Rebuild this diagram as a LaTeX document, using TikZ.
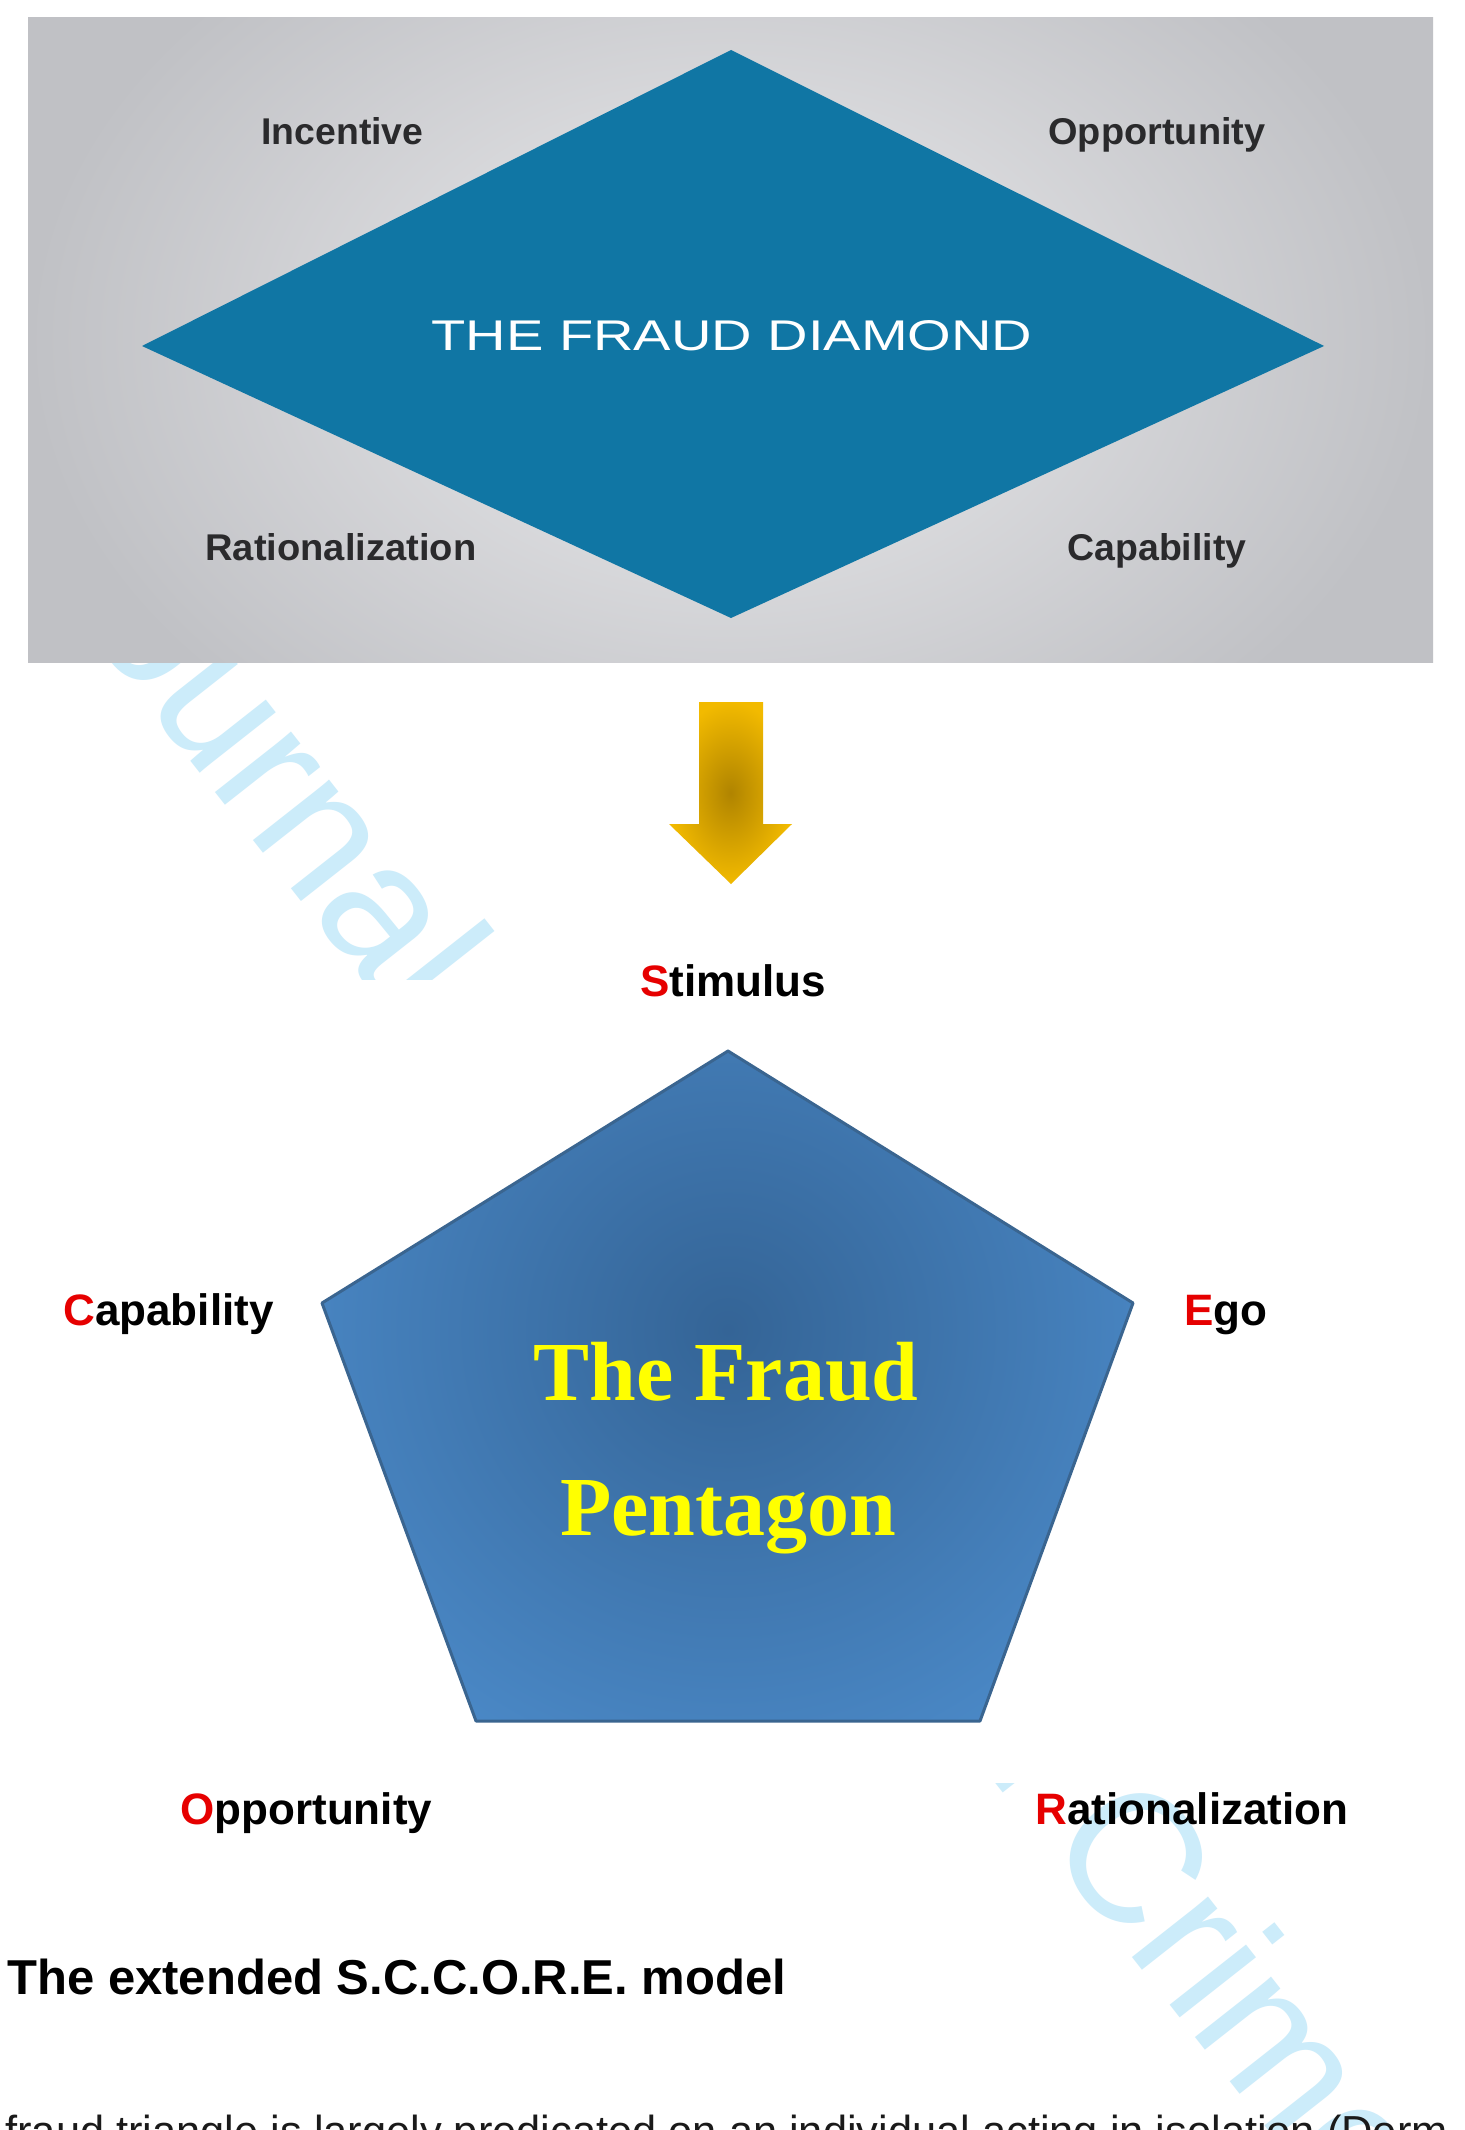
\documentclass[tikz,border=0pt]{standalone}
\usepackage{fontspec}
\setmainfont{Liberation Sans}
\newfontfamily\tnrfont{Liberation Serif}
\usepackage{graphicx}
\definecolor{wmblue}{RGB}{204,236,250}
\definecolor{diamblue}{RGB}{16,118,164}
\definecolor{labgray}{RGB}{42,42,44}
\definecolor{boxin}{RGB}{236,236,238}
\definecolor{boxout}{RGB}{192,193,197}
\definecolor{goldout}{RGB}{242,186,0}
\definecolor{goldin}{RGB}{176,132,0}
\definecolor{pentin}{RGB}{52,100,150}
\definecolor{pentout}{RGB}{74,136,198}
\definecolor{pentedge}{RGB}{58,101,144}
\definecolor{redl}{RGB}{230,0,0}
\definecolor{ylw}{RGB}{255,255,0}
\begin{document}
\begin{tikzpicture}[x=0.5pt,y=-0.5pt,
  dlab/.style={inner sep=0, anchor=base west, text=labgray},
  plab/.style={inner sep=0, anchor=base west, font=\fontsize{22pt}{26pt}\selectfont\bfseries},
  ptitle/.style={inner sep=0, anchor=base, text=ylw, font=\fontsize{42pt}{48pt}\selectfont\tnrfont\bfseries}]
\useasboundingbox (0,0) rectangle (1464,2130);
\clip (0,0) rectangle (1464,2130);
\fill[white] (0,0) rectangle (1464,2130);
% watermark
\node[inner sep=0, anchor=base west, rotate=-51.8, text=wmblue, font=\fontsize{92pt}{100pt}\selectfont] (wm) at (24,549) {Journal of Financial Crime};
% cover of the pentagon figure
\fill[white] (0,980) rectangle (1464,1783);
% top figure
\begin{scope}
  \clip (28,18) rectangle (1433,662);
  \shade[inner color=boxin, outer color=boxout] (28,-160) rectangle (1433,840);
\end{scope}
\fill[diamblue] (731,50) -- (1324,346) -- (731,618) -- (142,346) -- cycle;
\node[dlab] (inc) at (261,144) {\resizebox{81pt}{13.5pt}{\bfseries Incentive}};
\node[dlab] (opp) at (1048,144) {\resizebox{108.5pt}{13.5pt}{\bfseries Opportunity}};
\node[dlab] (rat) at (205,560) {\resizebox{135.5pt}{13.5pt}{\bfseries Rationalization}};
\node[dlab] (cap) at (1067,560) {\resizebox{89.5pt}{13.5pt}{\bfseries Capability}};
\node[inner sep=0, anchor=base west, text=white] (fd) at (431,350) {\resizebox{300.5pt}{15pt}{THE FRAUD DIAMOND}};
% arrow
\shade[inner color=goldin, outer color=goldout] (699,702) -- (763,702) -- (763,824) -- (792,824) -- (731,884) -- (669,824) -- (699,824) -- cycle;
% pentagon
\begin{scope}
  \clip (728,1051) -- (1133,1303) -- (980,1721) -- (476,1721) -- (322,1303) -- cycle;
  \shade[inner color=pentin, outer color=pentout] (728,1330) circle[radius=470];
\end{scope}
\draw[pentedge, line width=1.5pt, line join=round] (728,1051) -- (1133,1303) -- (980,1721) -- (476,1721) -- (322,1303) -- cycle;
\node[ptitle] (t1) at (726,1400) {The Fraud};
\node[ptitle] (t2) at (728,1535) {Pentagon};
% pentagon labels
\node[plab] (ls) at (640,996) {\textcolor{redl}{S}timulus};
\node[plab] (lc) at (63,1325) {\textcolor{redl}{C}apability};
\node[plab] (le) at (1184,1325) {\textcolor{redl}{E}go};
\node[plab] (lo) at (180,1824) {\textcolor{redl}{O}pportunity};
\node[plab] (lr) at (1035,1824) {\textcolor{redl}{R}ationalization};
% heading and body text
\node[inner sep=0, anchor=base west, font=\fontsize{24.5pt}{28pt}\selectfont\bfseries] (head) at (7,1994) {The extended S.C.C.O.R.E. model};
\node[inner sep=0, anchor=base west, text={rgb,255:red,26;green,26;blue,26}, font=\fontsize{21.7pt}{26pt}\selectfont] (body) at (5,2146) {fraud triangle is largely predicated on an individual acting in isolation (Derm};
\end{tikzpicture}
\end{document}
